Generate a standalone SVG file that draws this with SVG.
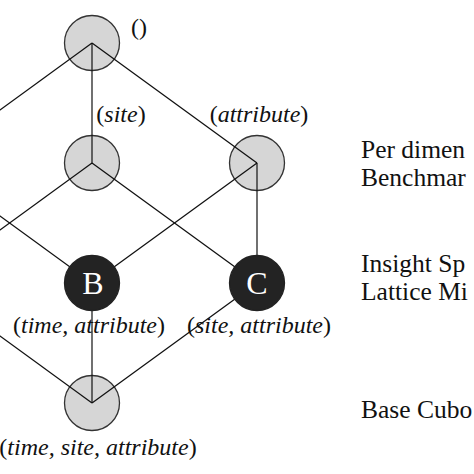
<svg xmlns="http://www.w3.org/2000/svg" width="474" height="474" viewBox="0 0 474 474">
<style>
.g{fill:#d6d6d6;stroke:#333;stroke-width:1.3}
.k{fill:#232323;stroke:#222;stroke-width:1.3}
.lab{font-family:"Liberation Serif","Times New Roman",serif;font-size:24px;fill:#111;text-anchor:middle}
.it{font-style:italic}
.letter{font-family:"Liberation Serif","Times New Roman",serif;font-size:32px;fill:#fff;text-anchor:middle}
.side{font-family:"Liberation Serif","Times New Roman",serif;font-size:25.5px;fill:#111}
#edges line{stroke:#111;stroke-width:1.2}
</style>
<rect width="474" height="474" fill="#fff"/>
<g id="n-top"><circle class="g" cx="92" cy="43" r="27.5"/><text class="lab" x="139" y="35" font-size="26">()</text></g>
<g id="n-site"><circle class="g" cx="92" cy="163" r="27.5"/><text class="lab" x="121" y="122">(<tspan class="it">site</tspan>)</text></g>
<g id="n-attr"><circle class="g" cx="257" cy="163" r="27.5"/><text class="lab" x="259" y="122">(<tspan class="it">attribute</tspan>)</text></g>
<g id="n-base"><circle class="g" cx="92" cy="403" r="27.5"/><text class="lab" x="98" y="455" font-size="22.5">(<tspan class="it">time, site, attribute</tspan>)</text></g>
<g id="edges">
<line x1="92" y1="43" x2="-73" y2="163"/>
<line x1="92" y1="43" x2="92" y2="163"/>
<line x1="92" y1="43" x2="257" y2="163"/>
<line x1="92" y1="163" x2="-73" y2="283"/>
<line x1="92" y1="163" x2="257" y2="283"/>
<line x1="257" y1="163" x2="92" y2="283"/>
<line x1="257" y1="163" x2="257" y2="283"/>
<line x1="-73" y1="163" x2="92" y2="283"/>
<line x1="92" y1="283" x2="92" y2="403"/>
<line x1="257" y1="283" x2="92" y2="403"/>
<line x1="-73" y1="283" x2="92" y2="403"/>
</g>
<g id="n-B"><circle class="k" cx="92" cy="283" r="27.5"/><text class="letter" x="93" y="294">B</text><text class="lab" x="89" y="333">(<tspan class="it">time, attribute</tspan>)</text></g>
<g id="n-C"><circle class="k" cx="257" cy="283" r="27.5"/><text class="letter" x="257" y="294">C</text><text class="lab" x="259" y="333">(<tspan class="it">site, attribute</tspan>)</text></g>
<g id="side">
<text class="side" x="361" y="158">Per dimen</text>
<text class="side" x="361" y="186">Benchmar</text>
<text class="side" x="361" y="272">Insight Sp</text>
<text class="side" x="361" y="300">Lattice Mi</text>
<text class="side" x="361" y="418">Base Cubo</text>
</g>
</svg>
